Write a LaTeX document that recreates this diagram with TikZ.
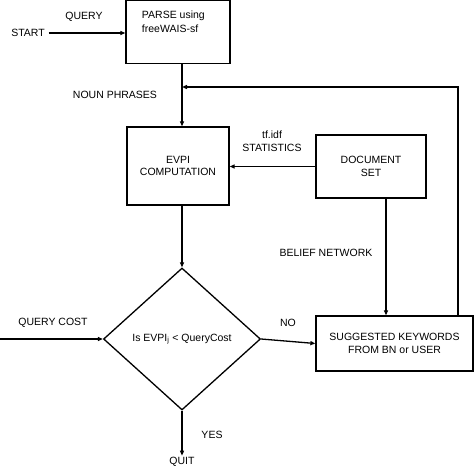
\documentclass[tikz,border=0pt]{standalone}
\usepackage{fontspec}
\setmainfont{Liberation Sans}
\usetikzlibrary{shapes.geometric,arrows.meta,positioning,calc}

\begin{document}
\begin{tikzpicture}[x=1pt, y=-1pt, font=\fontsize{10.5}{12.5}\selectfont, line width=1.3pt,
    box/.style={draw, rectangle, inner sep=0pt, align=center},
    arr/.style={-{Triangle[length=5pt,width=4pt]}}]
    \useasboundingbox (0,0) rectangle (474,469);

    % Boxes
    \node[box, minimum width=104, minimum height=63] (parse) at (178,32) {};
    \node[anchor=north west, align=left, font=\fontsize{10.5}{14}\selectfont] (parsetxt) at (138,7) {PARSE using\\freeWAIS-sf};
    \node[box, minimum width=102, minimum height=78] (evpi) at (178,166) {EVPI\\COMPUTATION};
    \node[box, minimum width=110, minimum height=63] (docset) at (371,166.5) {DOCUMENT\\SET};
    \node[draw, diamond, minimum width=157, minimum height=142, inner sep=0pt] (test) at (182,339) {Is EVPI\textsubscript{j} < QueryCost};
    \node[box, minimum width=157, minimum height=55] (sugg) at (394.5,343.5) {SUGGESTED KEYWORDS\\FROM BN or USER};
    \node (start) at (28,33) {START};
    \node[inner sep=1pt] (quit) at (182,462) {QUIT};

    % Labels
    \node (lquery) at (84,17) {QUERY};
    \node (lnoun) at (115,95) {NOUN PHRASES};
    \node[align=center] (ltfidf) at (272,141) {tf.idf\\STATISTICS};
    \node (lbelief) at (326,253) {BELIEF NETWORK};
    \node (lqcost) at (53,323) {QUERY COST};
    \node (lno) at (288,323) {NO};
    \node (lyes) at (212,435) {YES};

    % Helper points
    \coordinate (qcin) at (0,339);
    \coordinate (bn) at (386,0);
    \coordinate (fbturn) at (458,87);

    % Connectors
    \draw[arr] (start.east) -- (start.east -| parse.west);
    \draw[arr] (parse.south -| test) -- (evpi.north -| test);
    \draw[arr] (evpi.south -| test) -- (test.north);
    \draw[arr] (docset.west) -- (docset.west -| evpi.east);
    \draw[arr] (docset.south -| bn) -- (sugg.north -| bn);
    \draw[arr] (qcin) -- (test.west);
    \draw[arr] (test.east) -- (sugg.west);
    \draw[arr] (test.south) -- (quit.north);
    \draw[arr] (sugg.north -| fbturn) -- (fbturn) -- (fbturn -| test);
\end{tikzpicture}
\end{document}
